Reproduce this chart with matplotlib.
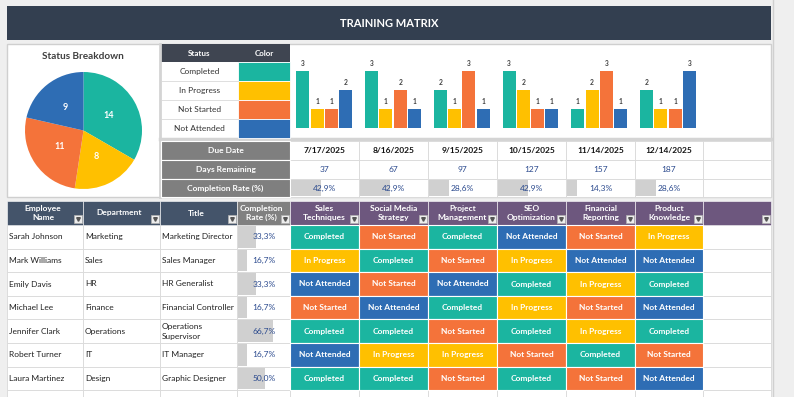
import numpy as np
import matplotlib.pyplot as plt
from matplotlib.patches import Rectangle

plt.rcParams['font.family'] = ['Lato', 'DejaVu Sans']

W, H = 794, 397

status_names = ['Completed', 'In Progress', 'Not Started', 'Not Attended']
status_colors = ['#1BB5A0', '#FFC000', '#F4733A', '#2E6DB4']

pie_values = [14, 8, 11, 9]

courses = ['Sales\nTechniques', 'Social Media\nStrategy', 'Project\nManagement',
           'SEO\nOptimization', 'Financial\nReporting', 'Product\nKnowledge']
due_dates = ['7/17/2025', '8/16/2025', '9/15/2025', '10/15/2025', '11/14/2025', '12/14/2025']
days_remaining = [37, 67, 97, 127, 157, 187]
course_rates = [42.9, 42.9, 28.6, 42.9, 14.3, 28.6]

# per course counts
completed_counts = [3, 3, 2, 3, 1, 2]
in_progress_counts = [1, 1, 1, 2, 2, 1]
not_started_counts = [1, 2, 3, 1, 3, 1]
not_attended_counts = [2, 1, 1, 1, 1, 3]

employees = ['Sarah Johnson', 'Mark Williams', 'Emily Davis', 'Michael Lee',
             'Jennifer Clark', 'Robert Turner', 'Laura Martinez']
departments = ['Marketing', 'Sales', 'HR', 'Finance', 'Operations', 'IT', 'Design']
titles = ['Marketing Director', 'Sales Manager', 'HR Generalist', 'Financial Controller',
          'Operations\nSupervisor', 'IT Manager', 'Graphic Designer']
employee_rates = [33.3, 16.7, 33.3, 16.7, 66.7, 16.7, 50.0]
statuses = [
    ['Completed', 'Not Started', 'Completed', 'Not Attended', 'Not Started', 'In Progress'],
    ['In Progress', 'Completed', 'Not Started', 'In Progress', 'Not Attended', 'Not Attended'],
    ['Not Attended', 'Not Started', 'Not Attended', 'Completed', 'In Progress', 'Completed'],
    ['Not Started', 'Not Attended', 'Completed', 'In Progress', 'Not Started', 'Not Attended'],
    ['Completed', 'Completed', 'Not Started', 'Completed', 'In Progress', 'Completed'],
    ['Not Attended', 'In Progress', 'In Progress', 'Not Started', 'Completed', 'Not Started'],
    ['Completed', 'Completed', 'Not Started', 'Completed', 'Not Started', 'Not Attended'],
]

color_of = dict(zip(status_names, status_colors))

# layout (pixels)
course_edges = [290, 359, 428, 497, 566, 635, 703, 771]
text_edges = [7, 83, 160, 237, 290]
grid = '#D9D9D9'
blue_txt = '#2B4A8E'


def fmt(v):
    return f'{v:.1f}%'.replace('.', ',')


fig = plt.figure(figsize=(W / 100, H / 100), dpi=100)
fig.patch.set_facecolor('#EFEFEF')
ax = fig.add_axes([0, 0, 1, 1])
ax.set_xlim(0, W)
ax.set_ylim(H, 0)
ax.axis('off')


def rect(x0, y0, x1, y1, fc, ec='none', lw=0, z=1):
    ax.add_patch(Rectangle((x0, y0), x1 - x0, y1 - y0, facecolor=fc,
                           edgecolor=ec, linewidth=lw, zorder=z))


def px_axes(x0, y0, x1, y1):
    return fig.add_axes([x0 / W, 1 - y1 / H, (x1 - x0) / W, (y1 - y0) / H])


def dropdown(xr, yb):
    rect(xr - 9, yb - 8, xr - 1, yb, '#EDEDED', '#B0B0B0', 0.5, z=4)
    ax.plot([xr - 5], [yb - 3.6], marker='v', ms=2.6, color='#555555', zorder=5)


ax.axvline(772.5, color='#D0D0D0', lw=1)

# title bar
rect(7, 6, 771, 40, '#333F50')
ax.text(389, 23.5, 'TRAINING MATRIX', color='white', fontsize=8, fontweight='bold',
        ha='center', va='center')

# top panel
rect(7, 44, 771, 197, 'white', '#CFCFCF', 1)
ax.plot([159.5, 159.5], [44, 197], color='#D4D4D4', lw=2, zorder=2)
ax.plot([159.5, 771], [139, 139], color='#D4D4D4', lw=2.5, zorder=2)
ax.text(83, 56.5, 'Status Breakdown', fontsize=7.2, fontweight='bold', color='#404040',
        ha='center', va='center')

# pie
pax = px_axes(25, 72, 142, 189)
pax.pie(pie_values, colors=status_colors, startangle=90, counterclock=False,
        autopct=lambda p: f'{p * sum(pie_values) / 100:.0f}', pctdistance=0.5,
        wedgeprops=dict(linewidth=0),
        textprops=dict(color='white', fontsize=6.5, fontweight='bold'))
pax.set_xlim(-1, 1)
pax.set_ylim(-1, 1)
pax.set_aspect('auto')

# status legend
rect(161, 44, 290, 62, '#3F4551')
ax.text(199.5, 53, 'Status', color='white', fontsize=5.8, fontweight='bold', ha='center', va='center')
ax.text(264, 53, 'Color', color='white', fontsize=5.8, fontweight='bold', ha='center', va='center')
for i, (name, col) in enumerate(zip(status_names, status_colors)):
    y0 = 62 + 19 * i
    ax.text(199.5, y0 + 9.5, name, fontsize=6, color='#333333', ha='center', va='center')
    rect(238, y0, 290, y0 + 19, col, 'white', 0.6, z=2)
    if i > 0:
        ax.plot([161, 238], [y0, y0], color=grid, lw=0.6)

# bar groups
bax = px_axes(290, 45, 771, 137)
x = np.arange(len(courses))
series = [completed_counts, in_progress_counts, not_started_counts, not_attended_counts]
for j, (vals, col) in enumerate(zip(series, status_colors)):
    b = bax.bar(x + (j - 1.5) * 0.208, vals, width=0.19, color=col)
    bax.bar_label(b, padding=3, fontsize=4.8, fontweight='bold', color='#404040')
bax.set_xlim(-0.5, 6.5)
bax.set_ylim(-(137 - 128) / 19, (128 - 45) / 19)
bax.axis('off')

# due date table
dd_rows = [141, 160, 179, 197]
dd_labels = ['Due Date', 'Days Remaining', 'Completion Rate (%)']
for r, lab in enumerate(dd_labels):
    y0, y1 = dd_rows[r], dd_rows[r + 1]
    rect(161, y0, 290, y1, '#7F7F7F', 'white', 0.8, z=2)
    ax.text(225.5, (y0 + y1) / 2, lab, color='white', fontsize=6, fontweight='bold',
            ha='center', va='center', zorder=3)
for c in range(7):
    xa, xb = course_edges[c], course_edges[c + 1]
    for r in range(3):
        rect(xa, dd_rows[r], xb, dd_rows[r + 1], 'white', grid, 0.6, z=1)
mid = [(course_edges[c] + course_edges[c + 1]) / 2 for c in range(6)]
for c in range(6):
    ax.text(mid[c], 150.5, due_dates[c], fontsize=6, fontweight='bold', color='#111111',
            ha='center', va='center')
    ax.text(mid[c], 169.5, str(days_remaining[c]), fontsize=6, color=blue_txt,
            ha='center', va='center')
    ax.text(mid[c], 188, fmt(course_rates[c]), fontsize=6, color=blue_txt,
            ha='center', va='center', zorder=4)
colw = course_edges[1] - course_edges[0]
ax.barh([188] * 6, [r / 100 * colw for r in course_rates], left=[e + 1 for e in course_edges[:6]],
        height=16, color='#D0D0D0', zorder=3)

# main table header
hy0, hy1 = 201, 225
head_text = ['Employee\nName', 'Department', 'Title', 'Completion\nRate (%)']
head_cols = ['#44546A', '#44546A', '#44546A', '#808080']
for k in range(4):
    xa, xb = text_edges[k], text_edges[k + 1]
    rect(xa, hy0, xb, hy1, head_cols[k], 'white', 0.4, z=2)
    ax.text((xa + xb) / 2 - 2, (hy0 + hy1) / 2, head_text[k], color='white', fontsize=6,
            fontweight='bold', ha='center', va='center', linespacing=1.25, zorder=3)
    dropdown(xb, hy1 - 2)
for c in range(7):
    xa, xb = course_edges[c], course_edges[c + 1]
    rect(xa, hy0, xb, hy1, '#6D577E', 'white', 0.4, z=2)
    if c < 6:
        ax.text((xa + xb) / 2, (hy0 + hy1) / 2, courses[c], color='white', fontsize=6,
                fontweight='bold', ha='center', va='center', linespacing=1.25, zorder=3)
    dropdown(xb, hy1 - 2)

# rows
row_h = 23.6
rate_w = text_edges[4] - text_edges[3]
for i in range(len(employees) + 1):
    y0 = hy1 + row_h * i
    y1 = min(y0 + row_h, H + 5)
    for k in range(4):
        rect(text_edges[k], y0, text_edges[k + 1], y1, 'white', grid, 0.6, z=1)
    rect(course_edges[6], y0, course_edges[7], y1, 'white', grid, 0.6, z=1)
    if i == len(employees):
        for c in range(6):
            rect(course_edges[c], y0, course_edges[c + 1], y1, 'white', grid, 0.6, z=1)
        continue
    ym = y0 + row_h / 2
    ax.text(text_edges[0] + 2, ym, employees[i], fontsize=6, color='#222222', va='center')
    ax.text(text_edges[1] + 2, ym, departments[i], fontsize=6, color='#222222', va='center')
    ax.text(text_edges[2] + 2, ym, titles[i], fontsize=6, color='#222222', va='center',
            linespacing=1.5)
    ax.text(264, ym, fmt(employee_rates[i]), fontsize=6, color=blue_txt, ha='center',
            va='center', zorder=4)
    for c in range(6):
        st = statuses[i][c]
        rect(course_edges[c], y0, course_edges[c + 1], y0 + row_h, color_of[st], 'white', 0.8, z=2)
        ax.text(mid[c], ym, st, fontsize=6, fontweight='bold', color='white',
                ha='center', va='center', zorder=3)

ax.barh([hy1 + row_h * (i + 0.5) for i in range(len(employees))],
        [r / 100 * rate_w for r in employee_rates], left=text_edges[3] + 1,
        height=row_h - 2, color='#D0D0D0', zorder=3)

fig.savefig('out.png', dpi=100, facecolor=fig.get_facecolor())
